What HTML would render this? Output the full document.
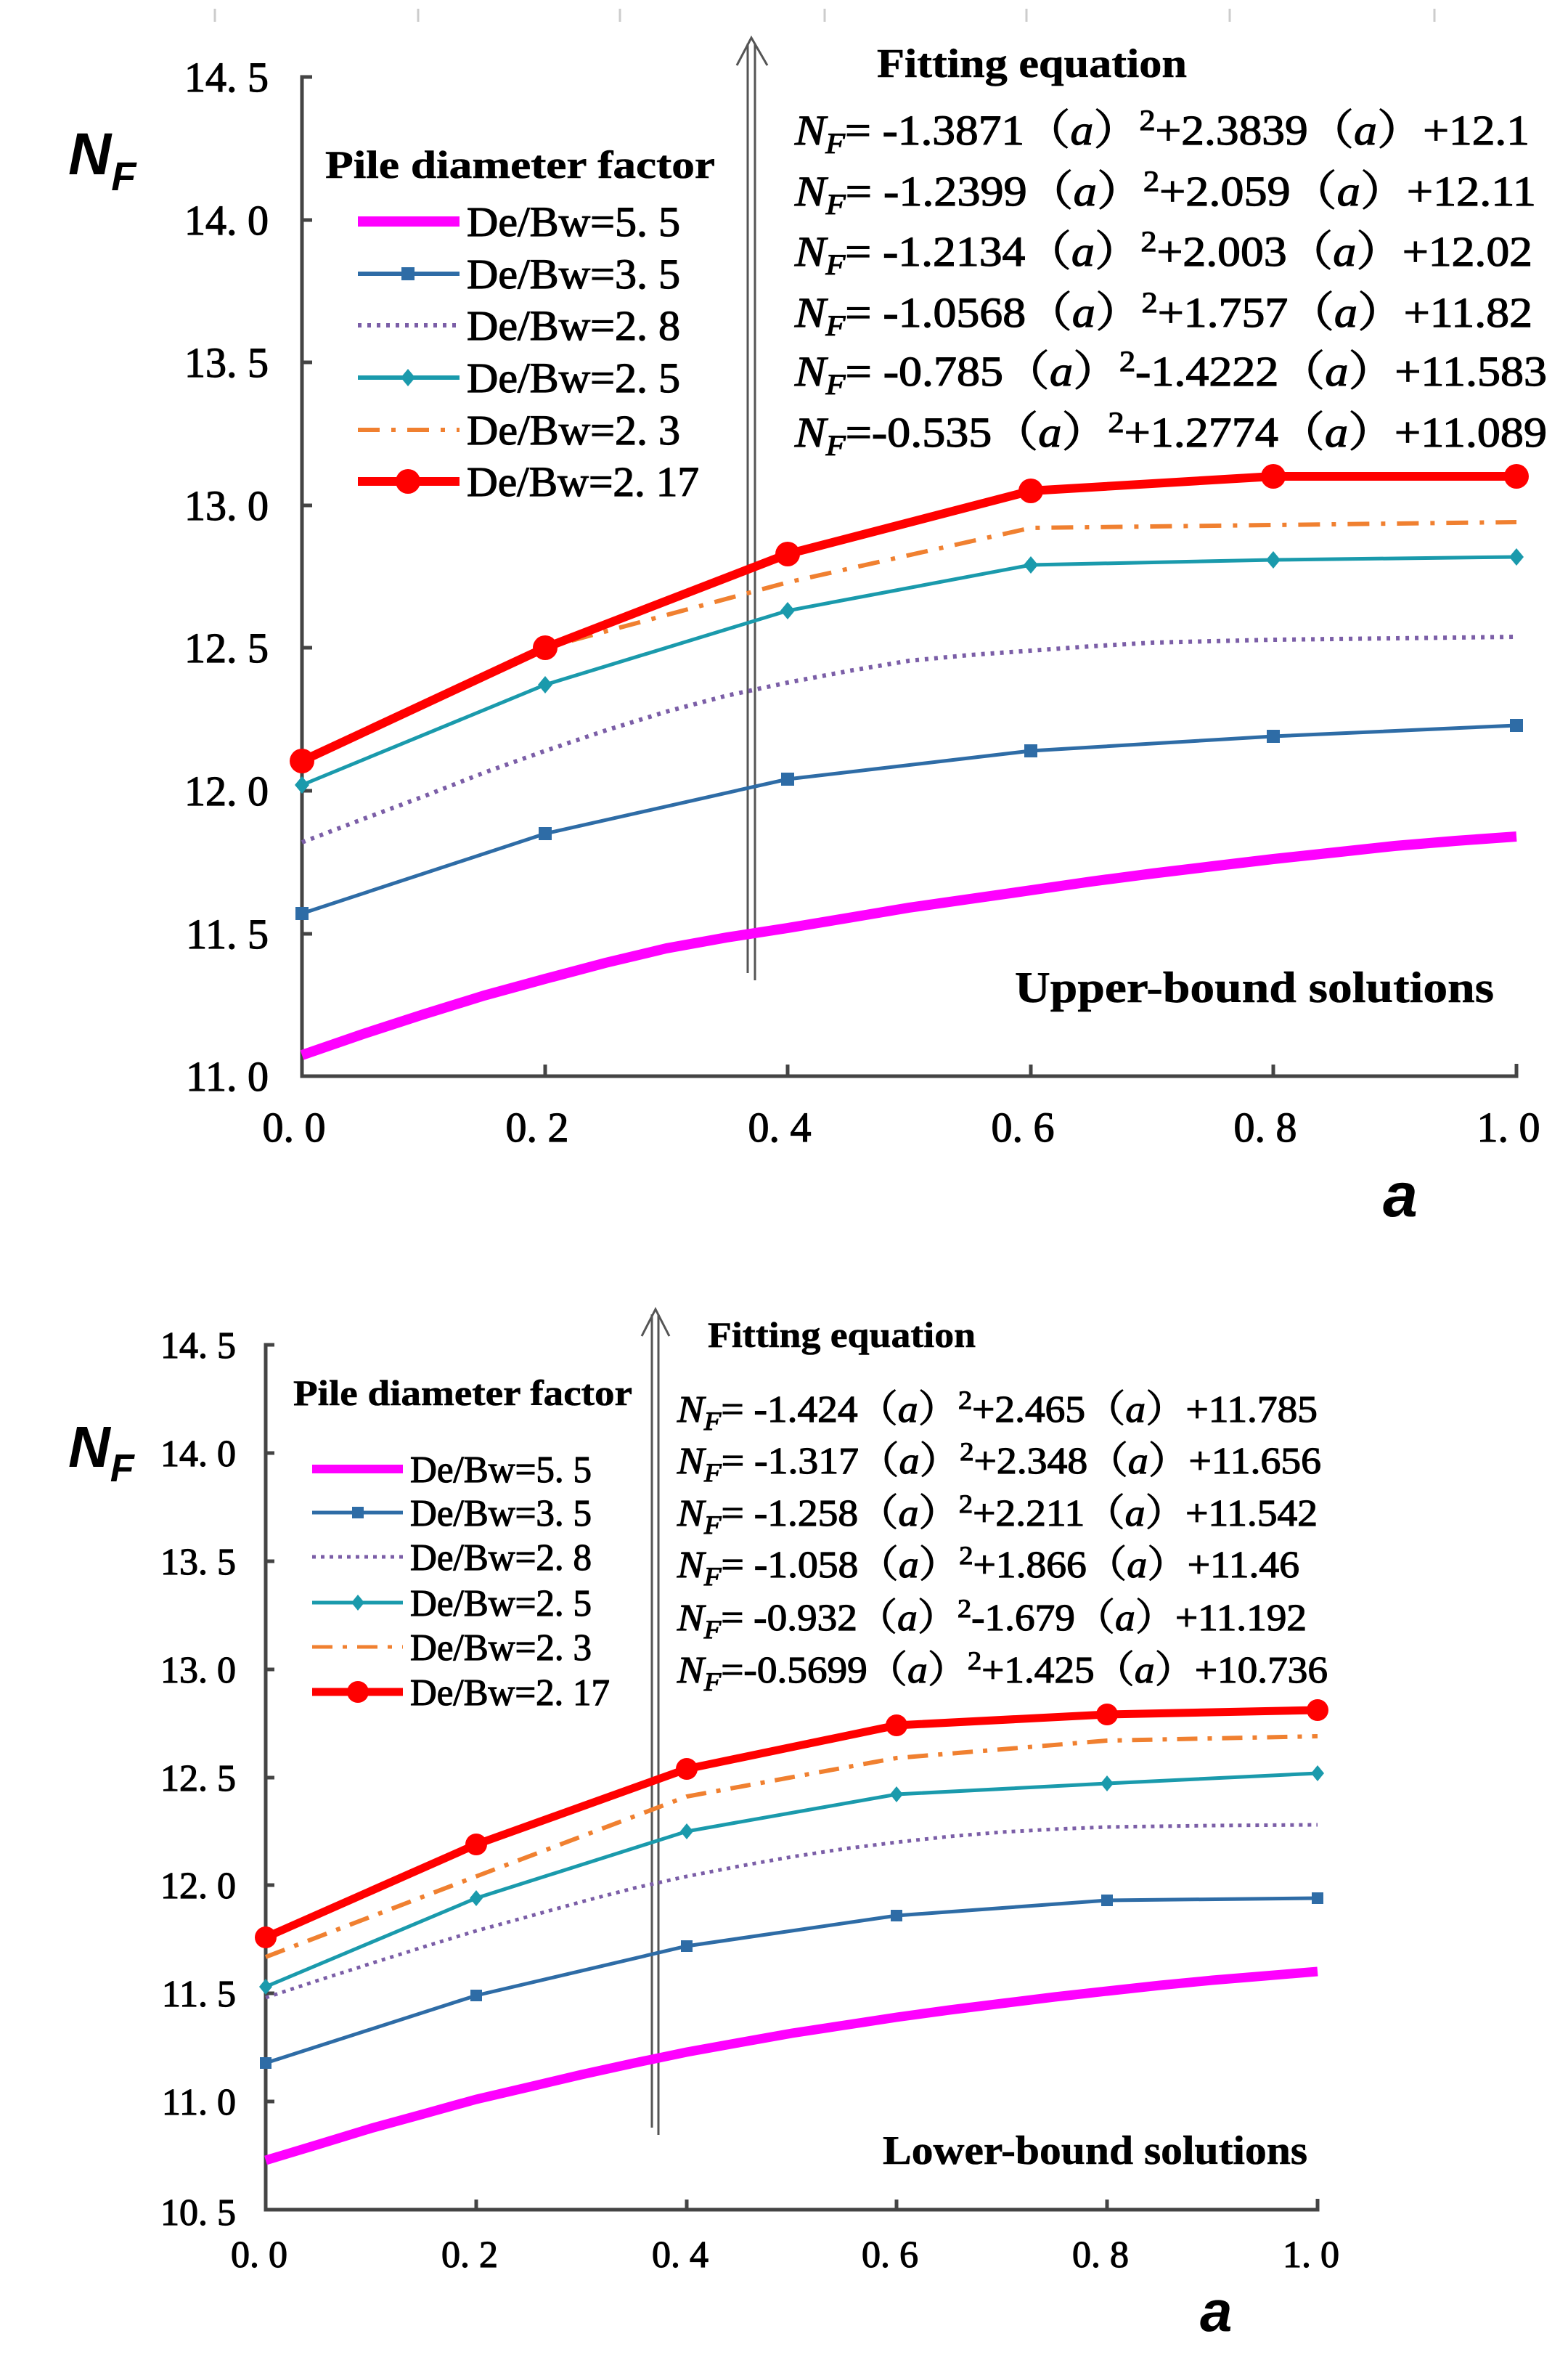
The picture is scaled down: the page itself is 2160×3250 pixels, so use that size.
<!DOCTYPE html>
<html><head><meta charset="utf-8"><style>
html,body{margin:0;padding:0;background:#fff;}
svg{display:block;}
.t{font-family:"Liberation Serif","Noto Serif CJK SC",serif;fill:#000;stroke:#000;stroke-width:1.2;}
.b{font-weight:bold;stroke-width:0.6;}
.ax{font-family:"Liberation Sans","DejaVu Sans",sans-serif;font-weight:bold;font-style:italic;fill:#000;}
</style></head><body>
<svg width="2160" height="3250" viewBox="0 0 2160 3250" xmlns="http://www.w3.org/2000/svg">
<rect width="2160" height="3250" fill="#fff"/>
<g stroke="#ccc" stroke-width="3">
<line x1="296" y1="12" x2="296" y2="30"/><line x1="576" y1="12" x2="576" y2="30"/><line x1="854" y1="12" x2="854" y2="30"/><line x1="1136" y1="12" x2="1136" y2="30"/><line x1="1414" y1="12" x2="1414" y2="30"/><line x1="1694" y1="12" x2="1694" y2="30"/><line x1="1976" y1="12" x2="1976" y2="30"/>
</g>

<!-- ================= UPPER ================= -->
<g stroke="#444" stroke-width="5" fill="none">
<polyline points="430,106 416,106 416,1482 2089,1482 2089,1465"/>
<line x1="416" y1="303" x2="430" y2="303"/><line x1="416" y1="499" x2="430" y2="499"/><line x1="416" y1="696" x2="430" y2="696"/><line x1="416" y1="892" x2="430" y2="892"/><line x1="416" y1="1089" x2="430" y2="1089"/><line x1="416" y1="1286" x2="430" y2="1286"/>
<line x1="751" y1="1482" x2="751" y2="1466"/><line x1="1085" y1="1482" x2="1085" y2="1466"/><line x1="1420" y1="1482" x2="1420" y2="1466"/><line x1="1754" y1="1482" x2="1754" y2="1466"/>
</g>
<g class="t" font-size="58" text-anchor="end">
<text x="370" y="126">14. 5</text><text x="370" y="323">14. 0</text><text x="370" y="519">13. 5</text><text x="370" y="716">13. 0</text><text x="370" y="912">12. 5</text><text x="370" y="1109">12. 0</text><text x="370" y="1306">11. 5</text><text x="370" y="1502">11. 0</text>
</g>
<g class="t" font-size="58" text-anchor="middle">
<text x="405" y="1572">0. 0</text><text x="740" y="1572">0. 2</text><text x="1074" y="1572">0. 4</text><text x="1409" y="1572">0. 6</text><text x="1743" y="1572">0. 8</text><text x="2078" y="1572">1. 0</text>
</g>
<text class="ax" x="94" y="240" font-size="82">N<tspan font-size="56" dy="22">F</tspan></text>
<text class="ax" x="1905" y="1675" font-size="86">a</text>

<g stroke="#555" stroke-width="3" fill="none">
<line x1="1030" y1="60" x2="1030" y2="1340"/><line x1="1040" y1="60" x2="1040" y2="1350"/>
<polyline points="1015,90 1035,52 1057,90"/>
</g>

<polyline fill="none" stroke="#ff00ff" stroke-width="14" points="416,1453 500,1424 583,1397 667,1371 751,1348 834,1326 918,1306 1001,1291 1085,1278 1169,1264 1252,1250 1336,1238 1420,1226 1503,1214 1587,1203 1670,1193 1754,1183 1838,1174 1921,1165 2005,1158 2089,1152"/>
<polyline fill="none" stroke="#7b5ea7" stroke-width="6" stroke-dasharray="5 8" points="416,1160 500,1128 583,1097 667,1064 751,1034 834,1006 918,980 1001,958 1085,940 1169,924 1252,910 1336,902 1420,896 1503,890 1587,885 1670,883 1754,881 1921,879 2089,877"/>
<polyline fill="none" stroke="#2e6ca6" stroke-width="5" points="416,1258 751,1148 1085,1073 1420,1034 1754,1014 2089,999"/>
<g fill="#2e6ca6"><rect x="407" y="1249" width="18" height="18"/><rect x="742" y="1139" width="18" height="18"/><rect x="1076" y="1064" width="18" height="18"/><rect x="1411" y="1025" width="18" height="18"/><rect x="1745" y="1005" width="18" height="18"/><rect x="2080" y="990" width="18" height="18"/></g>
<polyline fill="none" stroke="#1a9aac" stroke-width="5" points="416,1081 751,943 1085,841 1420,778 1754,771 2089,767"/>
<g fill="#1a9aac">
<polygon points="416,1069 426,1081 416,1093 406,1081"/><polygon points="751,931 761,943 751,955 741,943"/><polygon points="1085,829 1095,841 1085,853 1075,841"/><polygon points="1420,766 1430,778 1420,790 1410,778"/><polygon points="1754,759 1764,771 1754,783 1744,771"/><polygon points="2089,755 2099,767 2089,779 2079,767"/></g>
<polyline fill="none" stroke="#f08030" stroke-width="6" stroke-dasharray="30 16 6 16" points="416,1050 751,892 1085,802 1420,727 1754,723 2089,719"/>
<polyline fill="none" stroke="#ff0000" stroke-width="12" points="416,1048 751,892 1085,763 1420,676 1754,656 2089,656"/>
<g fill="#ff0000"><circle cx="416" cy="1048" r="17"/><circle cx="751" cy="892" r="17"/><circle cx="1085" cy="763" r="17"/><circle cx="1420" cy="676" r="17"/><circle cx="1754" cy="656" r="17"/><circle cx="2089" cy="656" r="17"/></g>

<text class="t b" x="448" y="245" font-size="54" textLength="537" lengthAdjust="spacingAndGlyphs">Pile diameter factor</text>
<line x1="493" y1="305" x2="633" y2="305" stroke="#ff00ff" stroke-width="14"/>
<line x1="493" y1="377" x2="633" y2="377" stroke="#2e6ca6" stroke-width="6"/><rect x="553" y="368" width="18" height="18" fill="#2e6ca6"/>
<line x1="493" y1="448" x2="633" y2="448" stroke="#7b5ea7" stroke-width="6" stroke-dasharray="5 8"/>
<line x1="493" y1="520" x2="633" y2="520" stroke="#1a9aac" stroke-width="6"/><polygon points="562,508 572,520 562,532 552,520" fill="#1a9aac"/>
<line x1="493" y1="592" x2="633" y2="592" stroke="#f08030" stroke-width="6" stroke-dasharray="30 16 6 16"/>
<line x1="493" y1="663" x2="633" y2="663" stroke="#ff0000" stroke-width="12"/><circle cx="562" cy="663" r="17" fill="#ff0000"/>
<g class="t" font-size="58">
<text x="643" y="325" textLength="294" lengthAdjust="spacingAndGlyphs">De/Bw=5. 5</text>
<text x="643" y="397" textLength="294" lengthAdjust="spacingAndGlyphs">De/Bw=3. 5</text>
<text x="643" y="468" textLength="294" lengthAdjust="spacingAndGlyphs">De/Bw=2. 8</text>
<text x="643" y="540" textLength="294" lengthAdjust="spacingAndGlyphs">De/Bw=2. 5</text>
<text x="643" y="612" textLength="294" lengthAdjust="spacingAndGlyphs">De/Bw=2. 3</text>
<text x="643" y="683" textLength="320" lengthAdjust="spacingAndGlyphs">De/Bw=2. 17</text>
</g>
<text class="t b" x="1208" y="106" font-size="56" textLength="427" lengthAdjust="spacingAndGlyphs">Fitting equation</text>
<g class="t" font-size="58">
<text x="1095" y="199" textLength="1012" lengthAdjust="spacingAndGlyphs"><tspan font-style="italic">N</tspan><tspan font-style="italic" font-size="40" dy="12">F</tspan><tspan dy="-12">= -1.3871（</tspan><tspan font-style="italic">a</tspan>）<tspan font-size="40" dy="-20">2</tspan><tspan dy="20">+2.3839（</tspan><tspan font-style="italic">a</tspan>）+12.1</text>
<text x="1095" y="283" textLength="1021" lengthAdjust="spacingAndGlyphs"><tspan font-style="italic">N</tspan><tspan font-style="italic" font-size="40" dy="12">F</tspan><tspan dy="-12">= -1.2399（</tspan><tspan font-style="italic">a</tspan>）<tspan font-size="40" dy="-20">2</tspan><tspan dy="20">+2.059（</tspan><tspan font-style="italic">a</tspan>）+12.11</text>
<text x="1095" y="366" textLength="1016" lengthAdjust="spacingAndGlyphs"><tspan font-style="italic">N</tspan><tspan font-style="italic" font-size="40" dy="12">F</tspan><tspan dy="-12">= -1.2134（</tspan><tspan font-style="italic">a</tspan>）<tspan font-size="40" dy="-20">2</tspan><tspan dy="20">+2.003（</tspan><tspan font-style="italic">a</tspan>）+12.02</text>
<text x="1095" y="450" textLength="1016" lengthAdjust="spacingAndGlyphs"><tspan font-style="italic">N</tspan><tspan font-style="italic" font-size="40" dy="12">F</tspan><tspan dy="-12">= -1.0568（</tspan><tspan font-style="italic">a</tspan>）<tspan font-size="40" dy="-20">2</tspan><tspan dy="20">+1.757（</tspan><tspan font-style="italic">a</tspan>）+11.82</text>
<text x="1095" y="531" textLength="1036" lengthAdjust="spacingAndGlyphs"><tspan font-style="italic">N</tspan><tspan font-style="italic" font-size="40" dy="12">F</tspan><tspan dy="-12">= -0.785（</tspan><tspan font-style="italic">a</tspan>）<tspan font-size="40" dy="-20">2</tspan><tspan dy="20">-1.4222（</tspan><tspan font-style="italic">a</tspan>）+11.583</text>
<text x="1095" y="615" textLength="1036" lengthAdjust="spacingAndGlyphs"><tspan font-style="italic">N</tspan><tspan font-style="italic" font-size="40" dy="12">F</tspan><tspan dy="-12">=-0.535（</tspan><tspan font-style="italic">a</tspan>）<tspan font-size="40" dy="-20">2</tspan><tspan dy="20">+1.2774（</tspan><tspan font-style="italic">a</tspan>）+11.089</text>
</g>
<text class="t b" x="1398" y="1380" font-size="60" textLength="660" lengthAdjust="spacingAndGlyphs">Upper-bound solutions</text>

<!-- ================= LOWER ================= -->
<g stroke="#444" stroke-width="5" fill="none">
<polyline points="378,1852 366,1852 366,3043 1815,3043 1815,3028"/>
<line x1="366" y1="2001" x2="378" y2="2001"/><line x1="366" y1="2150" x2="378" y2="2150"/><line x1="366" y1="2299" x2="378" y2="2299"/><line x1="366" y1="2448" x2="378" y2="2448"/><line x1="366" y1="2596" x2="378" y2="2596"/><line x1="366" y1="2745" x2="378" y2="2745"/><line x1="366" y1="2894" x2="378" y2="2894"/>
<line x1="656" y1="3043" x2="656" y2="3029"/><line x1="946" y1="3043" x2="946" y2="3029"/><line x1="1235" y1="3043" x2="1235" y2="3029"/><line x1="1525" y1="3043" x2="1525" y2="3029"/>
</g>
<g class="t" font-size="52" text-anchor="end">
<text x="325" y="1870">14. 5</text><text x="325" y="2019">14. 0</text><text x="325" y="2168">13. 5</text><text x="325" y="2317">13. 0</text><text x="325" y="2466">12. 5</text><text x="325" y="2614">12. 0</text><text x="325" y="2763">11. 5</text><text x="325" y="2912">11. 0</text><text x="325" y="3064">10. 5</text>
</g>
<g class="t" font-size="52" text-anchor="middle">
<text x="357" y="3122">0. 0</text><text x="647" y="3122">0. 2</text><text x="937" y="3122">0. 4</text><text x="1226" y="3122">0. 6</text><text x="1516" y="3122">0. 8</text><text x="1806" y="3122">1. 0</text>
</g>
<text class="ax" x="94" y="2020" font-size="80">N<tspan font-size="54" dy="20">F</tspan></text>
<text class="ax" x="1653" y="3210" font-size="80">a</text>

<g stroke="#555" stroke-width="3" fill="none">
<line x1="898" y1="1810" x2="898" y2="2930"/><line x1="907" y1="1810" x2="907" y2="2940"/>
<polyline points="884,1840 903,1803 922,1840"/>
</g>

<polyline fill="none" stroke="#ff00ff" stroke-width="13" points="366,2975 439,2953 511,2931 584,2911 656,2891 729,2874 801,2857 874,2841 946,2826 1018,2813 1091,2800 1163,2789 1235,2778 1308,2768 1380,2759 1453,2750 1525,2742 1598,2734 1670,2727 1743,2721 1815,2715"/>
<polyline fill="none" stroke="#7b5ea7" stroke-width="5" stroke-dasharray="5 7" points="366,2751 439,2727 511,2704 584,2681 656,2659 729,2639 801,2619 874,2600 946,2584 1018,2570 1091,2557 1163,2546 1235,2537 1308,2529 1380,2523 1453,2519 1525,2516 1670,2514 1815,2513"/>
<polyline fill="none" stroke="#2e6ca6" stroke-width="5" points="366,2841 656,2748 946,2680 1235,2638 1525,2617 1815,2614"/>
<g fill="#2e6ca6"><rect x="358" y="2833" width="16" height="16"/><rect x="648" y="2740" width="16" height="16"/><rect x="938" y="2672" width="16" height="16"/><rect x="1227" y="2630" width="16" height="16"/><rect x="1517" y="2609" width="16" height="16"/><rect x="1807" y="2606" width="16" height="16"/></g>
<polyline fill="none" stroke="#1a9aac" stroke-width="5" points="366,2736 656,2614 946,2522 1235,2471 1525,2456 1815,2442"/>
<g fill="#1a9aac">
<polygon points="366,2725 375,2736 366,2747 357,2736"/><polygon points="656,2603 665,2614 656,2625 647,2614"/><polygon points="946,2511 955,2522 946,2533 937,2522"/><polygon points="1235,2460 1244,2471 1235,2482 1226,2471"/><polygon points="1525,2445 1534,2456 1525,2467 1516,2456"/><polygon points="1815,2431 1824,2442 1815,2453 1806,2442"/></g>
<polyline fill="none" stroke="#f08030" stroke-width="6" stroke-dasharray="28 14 6 14" points="366,2695 656,2584 946,2474 1235,2421 1525,2397 1815,2391"/>
<polyline fill="none" stroke="#ff0000" stroke-width="11" points="366,2668 656,2540 946,2436 1235,2376 1525,2361 1815,2355"/>
<g fill="#ff0000"><circle cx="366" cy="2668" r="15"/><circle cx="656" cy="2540" r="15"/><circle cx="946" cy="2436" r="15"/><circle cx="1235" cy="2376" r="15"/><circle cx="1525" cy="2361" r="15"/><circle cx="1815" cy="2355" r="15"/></g>

<text class="t b" x="404" y="1935" font-size="50" textLength="467" lengthAdjust="spacingAndGlyphs">Pile diameter factor</text>
<line x1="430" y1="2023" x2="555" y2="2023" stroke="#ff00ff" stroke-width="12"/>
<line x1="430" y1="2083" x2="555" y2="2083" stroke="#2e6ca6" stroke-width="5"/><rect x="485" y="2075" width="16" height="16" fill="#2e6ca6"/>
<line x1="430" y1="2144" x2="555" y2="2144" stroke="#7b5ea7" stroke-width="5" stroke-dasharray="5 7"/>
<line x1="430" y1="2207" x2="555" y2="2207" stroke="#1a9aac" stroke-width="5"/><polygon points="493,2196 502,2207 493,2218 484,2207" fill="#1a9aac"/>
<line x1="430" y1="2268" x2="555" y2="2268" stroke="#f08030" stroke-width="5" stroke-dasharray="28 14 6 14"/>
<line x1="430" y1="2330" x2="555" y2="2330" stroke="#ff0000" stroke-width="11"/><circle cx="493" cy="2330" r="15" fill="#ff0000"/>
<g class="t" font-size="52">
<text x="565" y="2041" textLength="250" lengthAdjust="spacingAndGlyphs">De/Bw=5. 5</text>
<text x="565" y="2101" textLength="250" lengthAdjust="spacingAndGlyphs">De/Bw=3. 5</text>
<text x="565" y="2162" textLength="250" lengthAdjust="spacingAndGlyphs">De/Bw=2. 8</text>
<text x="565" y="2225" textLength="250" lengthAdjust="spacingAndGlyphs">De/Bw=2. 5</text>
<text x="565" y="2286" textLength="250" lengthAdjust="spacingAndGlyphs">De/Bw=2. 3</text>
<text x="565" y="2348" textLength="275" lengthAdjust="spacingAndGlyphs">De/Bw=2. 17</text>
</g>
<text class="t b" x="975" y="1855" font-size="50" textLength="369" lengthAdjust="spacingAndGlyphs">Fitting equation</text>
<g class="t" font-size="52">
<text x="933" y="1958" textLength="882" lengthAdjust="spacingAndGlyphs"><tspan font-style="italic">N</tspan><tspan font-style="italic" font-size="36" dy="11">F</tspan><tspan dy="-11">= -1.424（</tspan><tspan font-style="italic">a</tspan>）<tspan font-size="36" dy="-18">2</tspan><tspan dy="18">+2.465（</tspan><tspan font-style="italic">a</tspan>）+11.785</text>
<text x="933" y="2029" textLength="887" lengthAdjust="spacingAndGlyphs"><tspan font-style="italic">N</tspan><tspan font-style="italic" font-size="36" dy="11">F</tspan><tspan dy="-11">= -1.317（</tspan><tspan font-style="italic">a</tspan>）<tspan font-size="36" dy="-18">2</tspan><tspan dy="18">+2.348（</tspan><tspan font-style="italic">a</tspan>）+11.656</text>
<text x="933" y="2101" textLength="882" lengthAdjust="spacingAndGlyphs"><tspan font-style="italic">N</tspan><tspan font-style="italic" font-size="36" dy="11">F</tspan><tspan dy="-11">= -1.258（</tspan><tspan font-style="italic">a</tspan>）<tspan font-size="36" dy="-18">2</tspan><tspan dy="18">+2.211（</tspan><tspan font-style="italic">a</tspan>）+11.542</text>
<text x="933" y="2172" textLength="857" lengthAdjust="spacingAndGlyphs"><tspan font-style="italic">N</tspan><tspan font-style="italic" font-size="36" dy="11">F</tspan><tspan dy="-11">= -1.058（</tspan><tspan font-style="italic">a</tspan>）<tspan font-size="36" dy="-18">2</tspan><tspan dy="18">+1.866（</tspan><tspan font-style="italic">a</tspan>）+11.46</text>
<text x="933" y="2245" textLength="867" lengthAdjust="spacingAndGlyphs"><tspan font-style="italic">N</tspan><tspan font-style="italic" font-size="36" dy="11">F</tspan><tspan dy="-11">= -0.932（</tspan><tspan font-style="italic">a</tspan>）<tspan font-size="36" dy="-18">2</tspan><tspan dy="18">-1.679（</tspan><tspan font-style="italic">a</tspan>）+11.192</text>
<text x="933" y="2317" textLength="896" lengthAdjust="spacingAndGlyphs"><tspan font-style="italic">N</tspan><tspan font-style="italic" font-size="36" dy="11">F</tspan><tspan dy="-11">=-0.5699（</tspan><tspan font-style="italic">a</tspan>）<tspan font-size="36" dy="-18">2</tspan><tspan dy="18">+1.425（</tspan><tspan font-style="italic">a</tspan>）+10.736</text>
</g>
<text class="t b" x="1216" y="2980" font-size="56" textLength="585" lengthAdjust="spacingAndGlyphs">Lower-bound solutions</text>
</svg>
</body></html>
